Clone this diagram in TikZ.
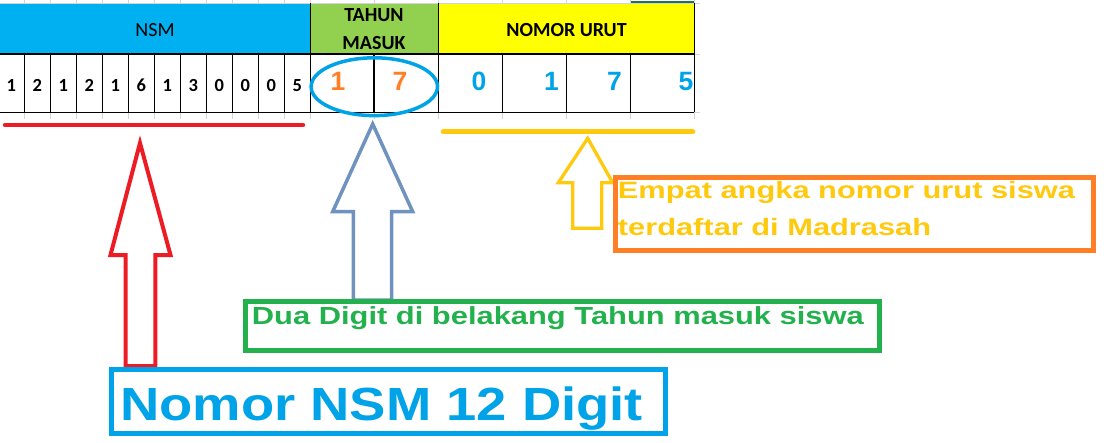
\documentclass[tikz,border=0pt]{standalone}
\usepackage{fontspec}
\setmainfont{Liberation Sans}
\newfontfamily\xlfont{Carlito}
\usetikzlibrary{positioning,calc,shapes.geometric}
\definecolor{nsmblue}{HTML}{00B0F0}
\definecolor{masukgreen}{HTML}{92D050}
\definecolor{urutyellow}{HTML}{FFFF00}
\definecolor{gridgray}{HTML}{D4D4D4}
\definecolor{xlgreen}{HTML}{217346}
\definecolor{paintred}{HTML}{ED1C24}
\definecolor{paintorange}{HTML}{FF7F27}
\definecolor{paintblue}{HTML}{00A2E8}
\definecolor{paintgold}{HTML}{FFC90E}
\definecolor{paintgreen}{HTML}{22B14C}
\definecolor{steelblue}{HTML}{7092BE}

\begin{document}
\begin{tikzpicture}[
x=1pt,y=-1pt,
hdr/.style={font=\xlfont\fontsize{20}{24}\selectfont,inner sep=0pt,anchor=base},
digit/.style={font=\xlfont\bfseries\fontsize{18.5}{22}\selectfont,inner sep=0pt,anchor=base},
bigdigit/.style={font=\bfseries\fontsize{26.5}{30}\selectfont,text=#1,inner sep=0pt,anchor=base},
cellline/.style={line width=1.2pt},
gridtick/.style={draw=gridgray,line width=1pt},
notebox/.style={draw=#1,line width=5pt,inner sep=0pt,outer sep=0pt,anchor=north west},
notetext/.style={text=#1,inner sep=0pt,anchor=base west},
blockarrow/.style={draw=#1,line width=3.5pt,line join=miter,fill=white},
]
	\useasboundingbox (0,0) rectangle (1118,442);
	% header cells
	\fill[nsmblue] (0,3.3) rectangle (310.3,54);
	\fill[masukgreen] (310.3,3.3) rectangle (438.3,54);
	\fill[urutyellow] (438.3,3.3) rectangle (694.3,54);
	\draw[xlgreen,line width=2pt] (630.3,2.2) -- (694.3,2.2);
	\node[hdr] (nsm) at (155,36) {NSM};
	\node[hdr] (masuk) at (374,21.7) {\bfseries\fontsize{20}{27.6}\selectfont\begin{tabular}[t]{@{}c@{}}TAHUN\\MASUK\end{tabular}};
	\node[hdr] (urut) at (566.5,36) {\bfseries NOMOR URUT};
	% faint sheet grid
	\foreach \x in {24.3,50.3,...,310.3,374,438.3,502.3,566.3,630.3,694.3}{
		\draw[gridtick] (\x,0) -- (\x,3.3);
		\draw[gridtick] (\x,112.3) -- (\x,119);
	}
	\draw[gridtick] (694.3,54) -- (700,54) (694.3,112.3) -- (700,112.3) (0,3.3) -- (700,3.3);
	% cell borders
	\draw[cellline] (0,54) -- (694.3,54) (0,112.3) -- (694.3,112.3);
	\draw[cellline] (310.3,3.3) -- (310.3,112.3) (438.3,3.3) -- (438.3,112.3) (694.3,3.3) -- (694.3,112.3);
	\foreach \x in {24.3,50.3,...,284.3,374,502.3,566.3,630.3}
		\draw[cellline] (\x,54) -- (\x,112.3);
	% digits
	\foreach \d [count=\i] in {1,2,1,2,1,6,1,3,0,0,0,5}
		\node[digit] (n\i) at ({11.3+26*(\i-1)},91.7) {\d};
	\node[bigdigit=paintorange] (t1) at (338,90.7) {1};
	\node[bigdigit=paintorange] (t2) at (400,90.7) {7};
	\node[bigdigit=paintblue] (u1) at (479,90.7) {0};
	\node[bigdigit=paintblue] (u2) at (551.5,90.7) {1};
	\node[bigdigit=paintblue] (u3) at (614.5,90.7) {7};
	\node[bigdigit=paintblue] (u4) at (686,90.7) {5};
	% marks under the table
	\node[draw=paintblue,line width=3.5pt,ellipse,minimum width=126.4pt,minimum height=57.8pt,inner sep=0pt] (ring) at (374.3,86.7) {};
	\draw[paintred,line width=4.5pt,line cap=round] (5,125) -- (303,125);
	\draw[paintgold,line width=4.5pt,line cap=round] (443,131.7) -- (693,131.7);
	% block arrows
	\draw[blockarrow=paintred,line width=4pt] (140,143) -- (170.5,255) -- (155.3,255) -- (155.3,366) -- (125.7,366) -- (125.7,255) -- (110.5,255) -- cycle;
	\draw[blockarrow=steelblue] (372.7,124) -- (412.7,211.7) -- (391.7,211.7) -- (391.7,300) -- (353.3,300) -- (353.3,211.7) -- (332.7,211.7) -- cycle;
	\draw[blockarrow=paintgold,line width=3.3pt] (587.7,138.3) -- (612.7,182.7) -- (601.7,182.7) -- (601.7,228.3) -- (572.7,228.3) -- (572.7,182.7) -- (558.3,182.7) -- cycle;
	% note boxes
	\node[notebox=paintorange,minimum width=477.7pt,minimum height=73.2pt] (urutbox) at (615.8,177.5) {};
	\node[notebox=paintgreen,minimum width=633.2pt,minimum height=49pt] (masukbox) at (245.8,301.8) {};
	\node[notebox=paintblue,minimum width=553.5pt,minimum height=63.2pt] (nsmbox) at (111.5,369.8) {};
	\node[notetext=paintgold,font=\bfseries\fontsize{23.7}{37}\selectfont] (uruttext) at (617.7,198.5) {\scalebox{1.3}[1]{\begin{tabular}[t]{@{}l@{}}Empat angka nomor urut siswa\\terdaftar di Madrasah\end{tabular}}};
	\node[notetext=paintgreen,font=\bfseries\fontsize{24.7}{30}\selectfont] (masuktext) at (251.7,324.3) {\scalebox{1.25}[1]{Dua Digit di belakang Tahun masuk siswa}};
	\node[notetext=paintblue,font=\bfseries\fontsize{46.5}{56}\selectfont] (nsmtext) at (120,420) {\scalebox{1.17}[1]{Nomor NSM 12 Digit}};
\end{tikzpicture}
\end{document}
